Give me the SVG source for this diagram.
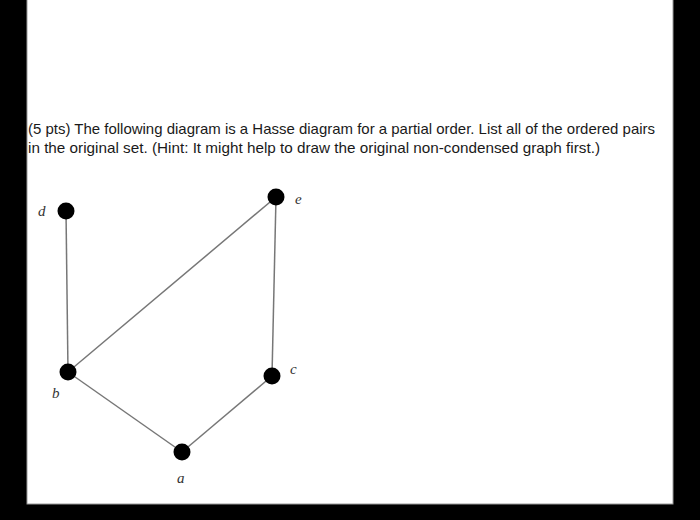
<svg xmlns="http://www.w3.org/2000/svg" width="700" height="520" viewBox="0 0 700 520">
  <style>
    .q { font-family: "Liberation Sans", Arial, sans-serif; font-size: 15px; fill: #1a1a1a; }
    .lbl { font-family: "Liberation Serif", "Times New Roman", serif; font-style: italic; font-size: 15px; fill: #333; }
    .edge { stroke: #777; stroke-width: 1.5; fill: none; }
    .dot { fill: #000; }
  </style>
  <rect x="0" y="0" width="700" height="520" fill="#000"/>
  <rect x="27" y="-1" width="646" height="505" fill="#fff" stroke="#999" stroke-width="1"/>
  <text class="q" x="28" y="134" textLength="627" lengthAdjust="spacingAndGlyphs">(5 pts) The following diagram is a Hasse diagram for a partial order. List all of the ordered pairs</text>
  <text class="q" x="28" y="153" textLength="572" lengthAdjust="spacingAndGlyphs">in the original set. (Hint: It might help to draw the original non-condensed graph first.)</text>
  <g id="connectors">
    <line class="edge" x1="66" y1="211" x2="68" y2="372"/>
    <line class="edge" x1="68" y1="372" x2="276" y2="197"/>
    <line class="edge" x1="276" y1="197" x2="272" y2="376"/>
    <line class="edge" x1="272" y1="376" x2="182" y2="452"/>
    <line class="edge" x1="182" y1="452" x2="68" y2="372"/>
  </g>
  <g id="node-d"><circle class="dot" cx="66" cy="211" r="8.5"/><text class="lbl" x="38" y="216">d</text></g>
  <g id="node-e"><circle class="dot" cx="276" cy="197" r="8.5"/><text class="lbl" x="295" y="204">e</text></g>
  <g id="node-b"><circle class="dot" cx="68" cy="372" r="8.5"/><text class="lbl" x="52" y="398">b</text></g>
  <g id="node-c"><circle class="dot" cx="272" cy="376" r="8.5"/><text class="lbl" x="290" y="374">c</text></g>
  <g id="node-a"><circle class="dot" cx="182" cy="452" r="8.5"/><text class="lbl" x="177" y="483">a</text></g>
</svg>
